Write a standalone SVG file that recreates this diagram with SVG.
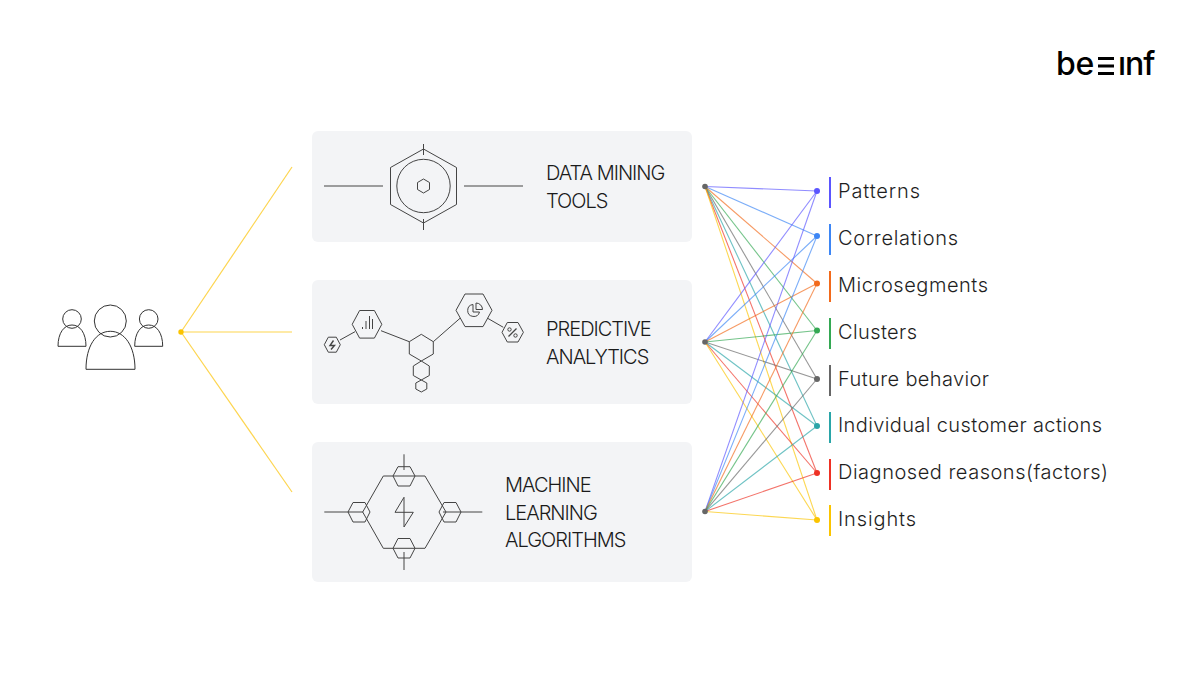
<svg xmlns="http://www.w3.org/2000/svg" width="1200" height="675" viewBox="0 0 1200 675">
<style>
.card{fill:#f3f4f6}
.i{fill:none;stroke:#444;stroke-width:1}
.p{fill:none;stroke:#333;stroke-width:1}
.t{font-family:"Inter","Liberation Sans",sans-serif;font-size:20px;font-weight:300;fill:#1a1a1a;letter-spacing:-1px}
.l{font-family:"Inter","Liberation Sans",sans-serif;font-size:20px;font-weight:300;fill:#1f1f1f}
.y{stroke:#fdd54f;stroke-width:1.2;fill:none}
#conn line{stroke-width:1.1;stroke-opacity:.68}
.c1{stroke:#5b55ff}.c2{stroke:#3d86f5}.c3{stroke:#f26a1b}.c4{stroke:#34a853}.c5{stroke:#666}.c6{stroke:#2aa5a8}.c7{stroke:#ee3124}.c8{stroke:#fbc400}
</style>
<rect width="1200" height="675" fill="#fff"/>
<g id="logo">
<text x="1056" y="75" font-family="Inter,'Liberation Sans',sans-serif" font-size="32" font-weight="500" fill="#000" letter-spacing="-.3">be</text>
<rect x="1098" y="57" width="16" height="3" fill="#000"/><rect x="1098" y="64.500" width="16" height="3" fill="#000"/><rect x="1098" y="72" width="16" height="3" fill="#000"/>
<text x="1118" y="75" font-family="Inter,'Liberation Sans',sans-serif" font-size="32" font-weight="500" fill="#000" letter-spacing="-1">ınf</text>
</g>
<g id="connectors">
<g id="conn">
<line class="c1" x1="705" y1="186.500" x2="817" y2="191"/><line class="c2" x1="705" y1="186.500" x2="817" y2="236"/><line class="c3" x1="705" y1="186.500" x2="817" y2="283.500"/><line class="c4" x1="705" y1="186.500" x2="817" y2="330.500"/><line class="c5" x1="705" y1="186.500" x2="817" y2="379"/><line class="c6" x1="705" y1="186.500" x2="817" y2="426"/><line class="c7" x1="705" y1="186.500" x2="817" y2="473"/><line class="c8" x1="705" y1="186.500" x2="817" y2="520"/>
<line class="c1" x1="705" y1="342" x2="817" y2="191"/><line class="c2" x1="705" y1="342" x2="817" y2="236"/><line class="c3" x1="705" y1="342" x2="817" y2="283.500"/><line class="c4" x1="705" y1="342" x2="817" y2="330.500"/><line class="c5" x1="705" y1="342" x2="817" y2="379"/><line class="c6" x1="705" y1="342" x2="817" y2="426"/><line class="c7" x1="705" y1="342" x2="817" y2="473"/><line class="c8" x1="705" y1="342" x2="817" y2="520"/>
<line class="c1" x1="705" y1="511.500" x2="817" y2="191"/><line class="c2" x1="705" y1="511.500" x2="817" y2="236"/><line class="c3" x1="705" y1="511.500" x2="817" y2="283.500"/><line class="c4" x1="705" y1="511.500" x2="817" y2="330.500"/><line class="c5" x1="705" y1="511.500" x2="817" y2="379"/><line class="c6" x1="705" y1="511.500" x2="817" y2="426"/><line class="c7" x1="705" y1="511.500" x2="817" y2="473"/><line class="c8" x1="705" y1="511.500" x2="817" y2="520"/>
</g>
<line class="y" x1="181" y1="332" x2="292" y2="167"/><line class="y" x1="181" y1="332" x2="292" y2="332"/><line class="y" x1="181" y1="332" x2="292" y2="492"/>
<circle cx="181" cy="332" r="2.700" fill="#fbc400"/>
<circle cx="705" cy="186.500" r="2.800" fill="#666"/><circle cx="705" cy="342" r="2.800" fill="#666"/><circle cx="705" cy="511.500" r="2.800" fill="#666"/>
</g>
<g id="users" class="p">
<circle cx="72" cy="319" r="9.300"/><path d="M58 346.300C58 333 64 325 72 325S86 333 86 346.300Z"/>
<circle cx="148.700" cy="319" r="9.300"/><path d="M134.700 346.300C134.700 333 140.700 325 148.700 325S162.700 333 162.700 346.300Z"/>
<circle cx="110.300" cy="321" r="16"/><path d="M86 369.300C86 346 96 331.300 110.300 331.300S135 346 135 369.300Z"/>
</g>
<g id="data-mining">
<rect class="card" x="312" y="131" width="380" height="111" rx="6"/>
<g class="i">
<path d="M423.500 149L456.500 167.500V204.500L423.500 223L390.500 204.500V167.500Z"/>
<circle cx="423.500" cy="186" r="26.700"/>
<path d="M423.500 179L429.500 182.500V189.500L423.500 193L417.500 189.500V182.500Z"/>
<path d="M324 186H383M464 186H523M423.500 144V155M423.500 219V230"/>
</g>
<text class="t" x="546" y="180">DATA MINING</text><text class="t" x="546" y="207.500">TOOLS</text>
</g>
<g id="predictive">
<rect class="card" x="312" y="280" width="380" height="124" rx="6"/>
<g class="i">
<path d="M352.200 324.300L359.600 310.500H374.400L381.800 324.300L374.400 338.100H359.600Z"/>
<path d="M324.300 344.700L328.300 337.200H336.300L340.300 344.700L336.300 352.200H328.300Z"/>
<path d="M456 310.300L465 294H483L492 310.300L483 326.600H465Z"/>
<path d="M502 332.300L507.300 322.500H518L523.400 332.300L518 342H507.300Z"/>
<path d="M421.300 334.300L433.300 341.700V354L421.300 361L409.300 354V341.700Z"/>
<path d="M421.300 361L429.300 366V375.500L421.300 380L413.300 375.500V366Z"/>
<path d="M421.300 380L426.800 383V389L421.300 392L415.800 389V383Z"/>
<path d="M340 340L355 331.700M381 330.700L409.300 341.700M433.300 341.700L460 318.300M487.700 318.300L503.300 327.300"/>
<path d="M362.500 329V327M366 329V321M369.500 329V316M372.500 329V319"/>
<path d="M333.500 340.500L330 345.500H334.500L331 349.500" stroke-width="1.400"/>
<path d="M473 304.500A6 6 0 1 0 479.500 312H473Z"/><path d="M476 303V309.500H482.500A6.500 6.500 0 0 0 476 303Z"/>
<path d="M516.500 328.500L508.500 336.500" stroke-width="1.300"/><circle cx="509.500" cy="329.500" r="1.700"/><circle cx="515.500" cy="335.500" r="1.700"/>
</g>
<text class="t" x="546" y="336">PREDICTIVE</text><text class="t" x="546" y="363.500">ANALYTICS</text>
</g>
<g id="machine-learning">
<rect class="card" x="312" y="442" width="380" height="140" rx="6"/>
<g class="i">
<path d="M383.300 476H425L446 512L425 548.300H383.300L362.700 512Z"/>
<path d="M393 476L398 466.700H410L415 476L410 486H398Z"/>
<path d="M393 548.300L398 538.500H410L415 548.300L410 558H398Z"/>
<path d="M348 512L353 502.500H365L370 512L365 522H353Z"/>
<path d="M439 512L444 502.500H456L461 512L456 522H444Z"/>
<path d="M404 454.300V470M404 552V570M324.300 512H363M443 512H482.300"/>
<path d="M404 497.300L395 512.300H413.300L404 527Z"/>
</g>
<text class="t" x="505" y="492">MACHINE</text><text class="t" x="505" y="519.500">LEARNING</text><text class="t" x="505" y="547">ALGORITHMS</text>
</g>
<g id="patterns"><circle cx="817" cy="191" r="3" fill="#5b55ff"/><rect x="829" y="177" width="2" height="31" fill="#5b55ff"/><text class="l" x="838" y="198" textLength="82">Patterns</text></g>
<g id="correlations"><circle cx="817" cy="236" r="3" fill="#3d86f5"/><rect x="829" y="224" width="2" height="31" fill="#3d86f5"/><text class="l" x="838" y="245" textLength="120">Correlations</text></g>
<g id="microsegments"><circle cx="817" cy="283.500" r="3" fill="#f26a1b"/><rect x="829" y="271" width="2" height="31" fill="#f26a1b"/><text class="l" x="838" y="292" textLength="150">Microsegments</text></g>
<g id="clusters"><circle cx="817" cy="330.500" r="3" fill="#34a853"/><rect x="829" y="318" width="2" height="31" fill="#34a853"/><text class="l" x="838" y="339" textLength="79">Clusters</text></g>
<g id="future"><circle cx="817" cy="379" r="3" fill="#666"/><rect x="829" y="365" width="2" height="31" fill="#666"/><text class="l" x="838" y="386" textLength="151">Future behavior</text></g>
<g id="actions"><circle cx="817" cy="426" r="3" fill="#2aa5a8"/><rect x="829" y="412" width="2" height="31" fill="#2aa5a8"/><text class="l" x="838" y="432" textLength="264">Individual customer actions</text></g>
<g id="reasons"><circle cx="817" cy="473" r="3" fill="#ee3124"/><rect x="829" y="459" width="2" height="31" fill="#ee3124"/><text class="l" x="838" y="479" textLength="270">Diagnosed reasons(factors)</text></g>
<g id="insights"><circle cx="817" cy="520" r="3" fill="#fbc400"/><rect x="829" y="505" width="2" height="31" fill="#fbc400"/><text class="l" x="838" y="526" textLength="78">Insights</text></g>
</svg>
